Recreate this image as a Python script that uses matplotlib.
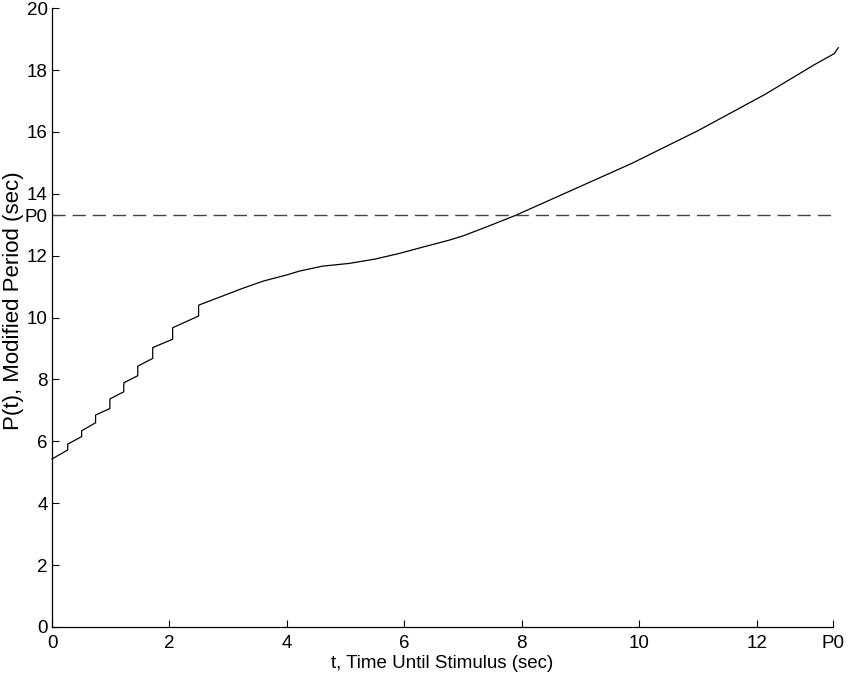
import numpy as np
import matplotlib
matplotlib.use('Agg')
import matplotlib.pyplot as plt

plt.rcParams['font.family'] = ['Liberation Sans', 'DejaVu Sans']

# P0, the free-running period (sec)
p0 = 13.3

# staircase part (pairs at the same t are the jumps)
t_steps = [0.0, 0.267, 0.267, 0.504, 0.504, 0.742, 0.742, 0.985, 0.985,
           1.222, 1.222, 1.46, 1.46, 1.715, 1.715, 2.054, 2.054, 2.496, 2.496]
p_steps = [5.43, 5.72, 5.91, 6.15, 6.34, 6.60, 6.85, 7.06, 7.37,
           7.60, 7.89, 8.12, 8.43, 8.68, 9.03, 9.30, 9.67, 10.05, 10.40]

# smooth part
t_smooth = [3.24, 3.6, 4.0, 4.21, 4.6, 5.06, 5.5, 5.91, 6.3, 6.76, 7.0, 7.4,
            7.89, 8.74, 9.87, 11.0, 12.13, 12.98, 13.32, 13.39]
p_smooth = [10.94, 11.18, 11.38, 11.50, 11.66, 11.75, 11.89, 12.07, 12.27, 12.50, 12.64, 12.93,
            13.3, 14.02, 14.98, 16.04, 17.20, 18.17, 18.53, 18.72]

x_ticks = [0, 2, 4, 6, 8, 10, 12, p0]
x_labels = ['0', '2', '4', '6', '8', '10', '12', 'P0']
y_ticks = [0, 2, 4, 6, 8, 10, 12, p0, 14, 16, 18, 20]
y_labels = ['0', '2', '4', '6', '8', '10', '12', 'P0', '14', '16', '18', '20']

t = np.array(t_steps + t_smooth)
p = np.array(p_steps + p_smooth)

fig = plt.figure(figsize=(8.5, 6.8), dpi=100)
ax = fig.add_axes([0.0612, 0.078, 0.9188, 0.91])

ax.plot(t, p, color='black', lw=0.9, clip_on=False)
dash, = ax.plot([0, p0], [p0, p0], color='#444444', lw=1.0)
dash.set_dashes([9.5, 5])

ax.set_xlim(0, p0)
ax.set_ylim(0, 20)
ax.set_xticks(x_ticks)
ax.set_xticklabels(x_labels)
ax.set_yticks(y_ticks)
ax.set_yticklabels(y_labels)
ax.tick_params(direction='in', length=5, width=0.8, labelsize=13.5)
ax.tick_params(axis='x', pad=6)
ax.tick_params(axis='y', pad=3)

ax.spines['top'].set_visible(False)
ax.spines['right'].set_visible(False)
ax.spines['left'].set_linewidth(0.9)
ax.spines['bottom'].set_linewidth(0.9)

ax.set_xlabel('t, Time Until Stimulus (sec)', fontsize=13.5, labelpad=2)
ax.set_ylabel('P(t), Modified Period (sec)', fontsize=16)
ax.yaxis.set_label_coords(-0.036, 0.528)

fig.savefig('out.png', dpi=100)
